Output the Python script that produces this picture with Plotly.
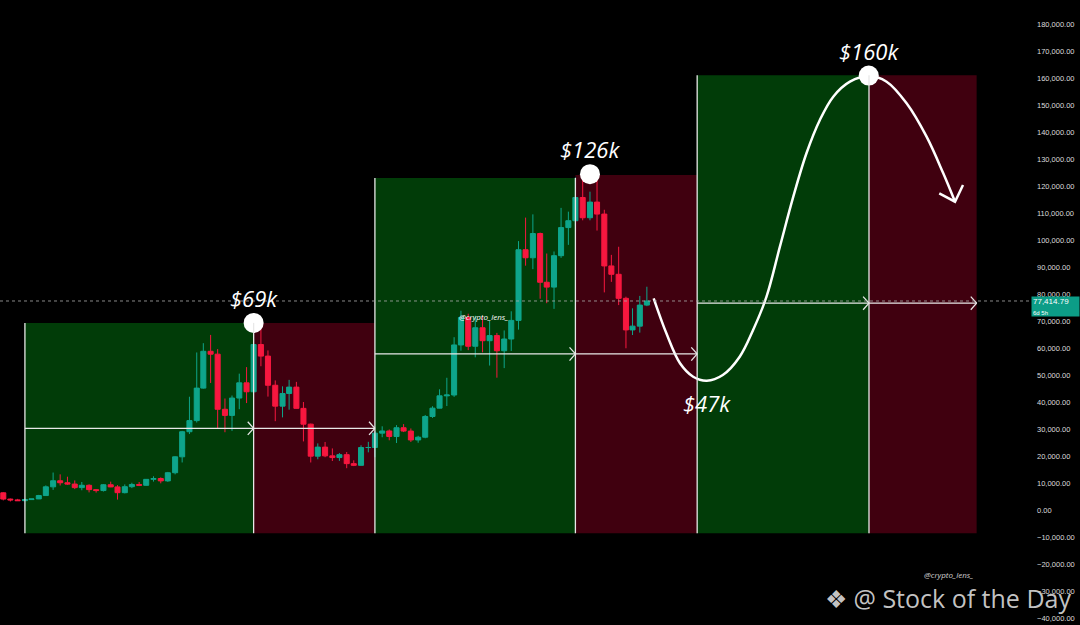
import pandas as pd
import plotly.graph_objects as go

# --- DATA: BTC monthly candles ---
MONTHS = pd.date_range("2018-11-01", periods=91, freq="MS")

OPEN = [6365, 4040,
        3742, 3457, 3854, 4105, 5350, 8575, 10820, 10085, 9600, 8290, 9150, 7540,
        7195, 9350, 8545, 6410, 8630, 9455, 9140, 11350, 11660, 10780, 13800, 19700,
        28990, 33110, 45140, 58790, 57720, 37300, 35040, 41460, 47100, 43790, 61300, 57000,
        46200, 38470, 43160, 45510, 37640, 31790, 19940, 23290, 20050, 19420, 20490, 17170,
        16540, 23130, 23150, 28470, 29270, 27210, 30470, 29230, 25940, 26960, 34640, 37720,
        42280, 42580, 61130, 71300, 60650, 67500, 62700, 64600, 58970, 63330, 70220, 96400,
        93430, 102400, 84350, 82550, 94200, 104600, 107150, 115750, 108250, 114050, 109600, 90400,
        87300, 78400, 66700, 68100, 75900]
HIGH = [6585, 4236,
        4110, 4200, 4110, 5600, 9100, 13880, 13200, 12330, 10950, 10370, 9510, 7750,
        9600, 10500, 9200, 9470, 10080, 10380, 11440, 12480, 12080, 14100, 19900, 29300,
        41950, 58350, 61780, 64850, 59600, 41300, 42400, 50500, 52920, 67000, 69000, 59100,
        47990, 45800, 48200, 47450, 40000, 31990, 24670, 25200, 22800, 21090, 21480, 18390,
        23960, 25250, 29200, 31000, 29820, 31430, 31800, 30200, 27480, 35200, 38420, 44700,
        48970, 64000, 73800, 72700, 71950, 71950, 70000, 65600, 66500, 73600, 99600, 108300,
        109500, 102750, 95000, 95750, 111900, 110500, 123200, 124450, 117900, 126200, 111200, 94500,
        97500, 79000, 74700, 79300, 82700]
LOW = [3560, 3156,
       3400, 3350, 3700, 4040, 5330, 7450, 9080, 9320, 7730, 7300, 6520, 6430,
       6850, 8450, 3850, 6150, 8100, 8850, 8970, 10520, 9880, 10430, 13200, 17600,
       28130, 32400, 44950, 47050, 30000, 28800, 29300, 37330, 39600, 43300, 53250, 42000,
       32900, 34300, 37150, 37700, 25400, 17600, 18780, 19550, 18150, 18190, 15480, 16260,
       16500, 21350, 19550, 26940, 25810, 24800, 28860, 25170, 24900, 26560, 34100, 37650,
       38500, 41900, 59000, 59200, 56550, 58400, 53500, 49000, 52550, 58900, 66800, 90500,
       89200, 78250, 76600, 74500, 93400, 98200, 105300, 107300, 107300, 103500, 80600, 84500,
       75900, 59900, 64800, 65700, 75500]
CLOSE = [4040, 3742,
         3457, 3854, 4105, 5350, 8575, 10820, 10085, 9600, 8290, 9150, 7540, 7195,
         9350, 8545, 6410, 8630, 9455, 9140, 11350, 11660, 10780, 13800, 19700, 28990,
         33110, 45140, 58790, 57720, 37300, 35040, 41460, 47100, 43790, 61300, 57000, 46200,
         38470, 43160, 45510, 37640, 31790, 19940, 23290, 20050, 19420, 20490, 17170, 16540,
         23130, 23150, 28470, 29270, 27210, 30470, 29230, 25940, 26960, 34640, 37720, 42280,
         42580, 61130, 71300, 60650, 67500, 62700, 64600, 58970, 63330, 70220, 96400, 93430,
         102400, 84350, 82550, 94200, 104600, 107150, 115750, 108250, 114050, 109600, 90400, 87300,
         78400, 66700, 68100, 75900, 77414.79]
LAST_PRICE = 77414.79
LAST_TAG = "77,414.79"
COUNTDOWN = "6d 5h"

# --- DATA: cycle boxes (accumulation = green, distribution = red) ---
CYCLE_START = ["2019-02-01", "2023-03-01", "2026-12-01"]
CYCLE_PEAK = ["2021-10-01", "2025-07-01", "2028-12-01"]
CYCLE_END = ["2023-03-01", "2026-12-01", "2030-03-04"]
GREEN_TOP = [69300, 123000, 161000]
RED_TOP = [69300, 124100, 161000]
BOX_BOTTOM = -8600
ARROW_LEVEL = [30250, 57800, 76600]

# tops marked with white dots
TOP_DATES = ["2021-10-01", "2025-09-01", "2028-11-30"]
TOP_PRICES = [69300, 124400, 160900]
TOP_LABELS = ["$69k", "$126k", "$160k"]

# hand drawn projection path
PROJ_DATES = ["2026-05-30", "2026-07-23", "2026-09-19", "2026-11-14", "2027-01-11",
              "2027-03-20", "2027-05-31", "2027-07-27", "2027-09-22", "2027-11-18",
              "2028-01-14", "2028-03-10", "2028-05-06", "2028-07-02", "2028-09-11",
              "2028-11-30", "2029-02-14", "2029-05-10", "2029-08-03", "2029-10-13",
              "2029-12-02"]
PROJ_PRICES = [78400, 65450, 54340, 49370, 47890,
               50000, 56780, 66670, 79010, 97530,
               116050, 132120, 144460, 153090, 158640,
               160750, 158640, 150640, 138270, 124710,
               114190]
HEAD_DATES = ["2029-09-26", "2029-12-02", "2030-01-05"]
HEAD_PRICES = [117300, 114190, 120380]
BOTTOM_LABEL = "$47k"

# --- STYLE ---
UP = "#0ea58b"
DOWN = "#f7173f"
BOX_GREEN = "#013c08"
BOX_RED = "#40000f"
LINE = "#e8e8e8"
CHEV_DAYS = 25
CHEV_DY = 2450

fig = go.Figure()

fig.add_trace(go.Candlestick(
    x=MONTHS, open=OPEN, high=HIGH, low=LOW, close=CLOSE,
    increasing=dict(line=dict(color=UP, width=1), fillcolor=UP),
    decreasing=dict(line=dict(color=DOWN, width=1), fillcolor=DOWN),
    whiskerwidth=0, showlegend=False, hoverinfo="skip",
))

shapes = []
# 1. Boxes + borders + horizontal arrows
for i in range(3):
    shapes.append(dict(type="rect", layer="below", x0=CYCLE_START[i], x1=CYCLE_PEAK[i],
                       y0=BOX_BOTTOM, y1=GREEN_TOP[i], fillcolor=BOX_GREEN, line_width=0))
    shapes.append(dict(type="rect", layer="below", x0=CYCLE_PEAK[i], x1=CYCLE_END[i],
                       y0=BOX_BOTTOM, y1=RED_TOP[i], fillcolor=BOX_RED, line_width=0))
    for xv in (CYCLE_START[i], CYCLE_PEAK[i]):
        shapes.append(dict(type="line", x0=xv, x1=xv, y0=BOX_BOTTOM, y1=GREEN_TOP[i],
                           line=dict(color=LINE, width=1.3)))
    lvl = ARROW_LEVEL[i]
    for a, b in ((CYCLE_START[i], CYCLE_PEAK[i]), (CYCLE_PEAK[i], CYCLE_END[i])):
        shapes.append(dict(type="line", x0=a, x1=b, y0=lvl, y1=lvl,
                           line=dict(color=LINE, width=1.3)))
        back = str((pd.Timestamp(b) - pd.Timedelta(days=CHEV_DAYS)).date())
        for s in (1, -1):
            shapes.append(dict(type="line", x0=back, x1=b, y0=lvl + s * CHEV_DY, y1=lvl,
                               line=dict(color=LINE, width=1.3)))

# 2. Current price dotted line
shapes.append(dict(type="line", xref="paper", x0=0, x1=1, y0=LAST_PRICE, y1=LAST_PRICE,
                   line=dict(color="rgba(170,170,170,0.8)", width=1, dash="dot")))

# 3. Projection curve + arrow head + top dots
fig.add_trace(go.Scatter(x=PROJ_DATES, y=PROJ_PRICES, mode="lines",
                         line=dict(color="white", width=2.5, shape="spline", smoothing=1.0),
                         showlegend=False, hoverinfo="skip"))
fig.add_trace(go.Scatter(x=HEAD_DATES, y=HEAD_PRICES, mode="lines",
                         line=dict(color="white", width=2.5),
                         showlegend=False, hoverinfo="skip"))
fig.add_trace(go.Scatter(x=TOP_DATES, y=TOP_PRICES, mode="markers",
                         marker=dict(color="white", size=20),
                         showlegend=False, hoverinfo="skip"))

BIG = dict(family="Open Sans", size=22, color="white")
annotations = []
for d, p, t in zip(TOP_DATES, TOP_PRICES, TOP_LABELS):
    annotations.append(dict(x=d, y=p, text=f"<i>{t}</i>", showarrow=False, yshift=25, font=BIG))
low_i = PROJ_PRICES.index(min(PROJ_PRICES))
annotations.append(dict(x=PROJ_DATES[low_i], y=PROJ_PRICES[low_i], text=f"<i>{BOTTOM_LABEL}</i>",
                        showarrow=False, yshift=-22, font=BIG))

# 4. Small texts / price tag / watermark (explicit anchors: paper 'auto' anchors shift them)
annotations.append(dict(xref="paper", yref="paper", x=483 / 1030, y=1 - 316 / 625,
                        xanchor="center", yanchor="middle",
                        text="<i>@crypto_lens_</i>", showarrow=False,
                        font=dict(family="Open Sans", size=8, color="white")))
annotations.append(dict(xref="paper", yref="paper", x=948 / 1030, y=1 - 574 / 625,
                        xanchor="center", yanchor="middle",
                        text="<i>@crypto_lens_</i>", showarrow=False,
                        font=dict(family="Open Sans", size=8, color="#d0d0d0")))
annotations.append(dict(xref="paper", yref="y", x=1, y=LAST_PRICE, xanchor="left",
                        yanchor="top", yshift=5, xshift=1, showarrow=False,
                        text=f"{LAST_TAG}<br><span style='font-size:6px'>{COUNTDOWN}</span>",
                        align="left", bgcolor="#0c9d87", width=45, height=17, borderpad=1,
                        font=dict(family="Liberation Sans", size=8, color="white")))
annotations.append(dict(xref="paper", yref="paper", x=1073 / 1030, y=1 - 598 / 625,
                        xanchor="right", yanchor="middle", text="❖ @ Stock of the Day",
                        showarrow=False,
                        font=dict(family="Open Sans", size=25, color="rgba(215,215,215,0.92)")))

fig.update_layout(
    width=1080, height=625,
    paper_bgcolor="black", plot_bgcolor="black",
    margin=dict(l=0, r=50, t=0, b=0),
    boxgap=0.1, boxgroupgap=0.15,
    shapes=shapes, annotations=annotations,
    xaxis=dict(range=["2018-10-18", "2030-10-17"], visible=False, rangeslider=dict(visible=False),
               showgrid=False, zeroline=False),
    yaxis=dict(range=[-42600, 188900], side="right", dtick=10000, tickformat=",.2f",
               showgrid=False, zeroline=False, ticks="", ticklabelstandoff=6,
               tickfont=dict(family="Liberation Sans", size=7.5, color="#dcdcdc")),
)

# page body margin would shift the fixed-size chart, so drop it
fig.write_html("out.html", config={"displayModeBar": False},
               post_script="document.body.style.margin='0';"
                           "document.body.style.background='black';")
